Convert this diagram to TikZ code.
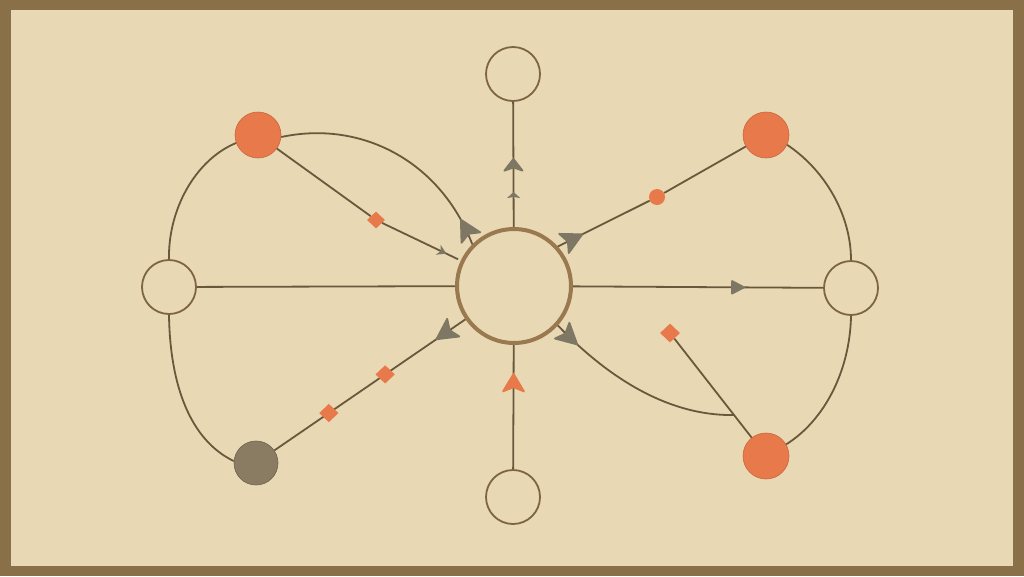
\documentclass[tikz,border=0pt]{standalone}
\usetikzlibrary{arrows.meta,decorations.markings,shapes.geometric}
\definecolor{bg}{HTML}{E8D8B4}
\definecolor{framec}{HTML}{8A7048}
\definecolor{ink}{HTML}{6B583C}
\definecolor{ringc}{HTML}{7E6442}
\definecolor{hubc}{HTML}{9A7850}
\definecolor{mk}{HTML}{7E7764}
\definecolor{orng}{HTML}{E8794A}
\definecolor{dk}{HTML}{8A7B63}
\begin{document}
\begin{tikzpicture}[x=1pt,y=-1pt,
  conn/.style={draw=ink,line width=1.8pt},
  hubnode/.style={circle,draw=hubc,line width=4pt,minimum size=114pt,inner sep=0pt},
  opennode/.style={circle,draw=ringc,line width=1.8pt,minimum size=54pt,inner sep=0pt},
  orangenode/.style={circle,fill=orng,draw=orng!85!black,line width=0.6pt,minimum size=46pt,inner sep=0pt},
  darknode/.style={circle,fill=dk,draw=dk!80!black,line width=0.6pt,minimum size=44pt,inner sep=0pt},
  diamondmark/.style={diamond,fill=orng,inner sep=0pt,minimum width=20pt,minimum height=19pt},
  dotmark/.style={circle,fill=orng,inner sep=0pt,minimum size=16pt},
  hubmark/.style={postaction={decorate,decoration={markings,
    mark=at position -#1 with {\arrowreversed{Stealth[length=24pt,width=25pt,inset=5pt,round,color=mk]}}}}},
  hubmark/.default=28pt,
  smallmark/.style={postaction={decorate,decoration={markings,
    mark=at position -16pt with {\arrow{Stealth[length=9pt,width=11pt,color=mk]}}}}},
  topmarks/.style={postaction={decorate,decoration={markings,
    mark=at position 69pt with {\arrow{Stealth[length=15pt,width=23pt,inset=4pt,round,color=mk]}},
    mark=at position 35pt with {\arrow{Stealth[length=6pt,width=13pt,inset=1pt,color=mk]}}}}},
  botmark/.style={postaction={decorate,decoration={markings,
    mark=at position 28pt with {\arrowreversed{Stealth[length=21pt,width=25pt,inset=5pt,round,color=orng]}}}}},
  rightmark/.style={postaction={decorate,decoration={markings,
    mark=at position 172pt with {\arrow{Triangle[length=15pt,width=15pt,round,color=mk]}}}}},
]
\useasboundingbox (0,0) rectangle (1024,576);
\fill[framec] (0,0) rectangle (1024,576);
\fill[bg] (11,10) rectangle (1013,566);

% nodes
\node[hubnode] (hub) at (514,286) {};
\node[opennode] (nT) at (513,74) {};
\node[opennode] (nB) at (513,497) {};
\node[opennode] (nL) at (169,287) {};
\node[opennode] (nR) at (851,288) {};
\node[orangenode] (oTL) at (258,135) {};
\node[orangenode] (oTR) at (766,135) {};
\node[orangenode] (oBR) at (766,456) {};
\node[darknode] (gBL) at (256,463) {};
\node[diamondmark,minimum width=18pt,minimum height=17pt] (d1) at (376,220) {};
\node[diamondmark] (d3) at (670,333) {};
\node[dotmark] (dot) at (657,197) {};
\coordinate (J) at (734,415);

% spokes
\draw[conn,topmarks] (hub) -- (nT);
\draw[conn,botmark] (hub) -- (nB);
\draw[conn] (nL) -- (hub);
\draw[conn,rightmark] (hub) -- (nR);

% upper left
\draw[conn] (oTL) -- (d1);
\draw[conn,smallmark,shorten >=3pt] (d1) -- (hub);
\draw[conn,hubmark] (oTL.-5) .. controls (360,120) and (440,160) .. (hub.135);

% upper right
\draw[conn] (oTR) -- (dot);
\draw[conn,hubmark] (dot) -- (hub.42);

% lower left
\draw[conn,hubmark=36pt] (gBL) -- node[pos=0.285,diamondmark]{} node[pos=0.58,diamondmark]{} (hub);

% lower right
\draw[conn] (oBR) -- (d3);
\draw[conn,hubmark] (J) .. controls (680,416) and (620,390) .. (hub.-42);

% outer loops
\draw[conn] (oTL.200) .. controls (195,160) and (168,210) .. (nL.north);
\draw[conn] (nL.south) .. controls (170,385) and (190,440) .. (gBL.175);
\draw[conn] (oTR.-25) .. controls (825,170) and (851,215) .. (nR.north);
\draw[conn] (nR.south) .. controls (850,370) and (825,420) .. (oBR.30);
\end{tikzpicture}
\end{document}
